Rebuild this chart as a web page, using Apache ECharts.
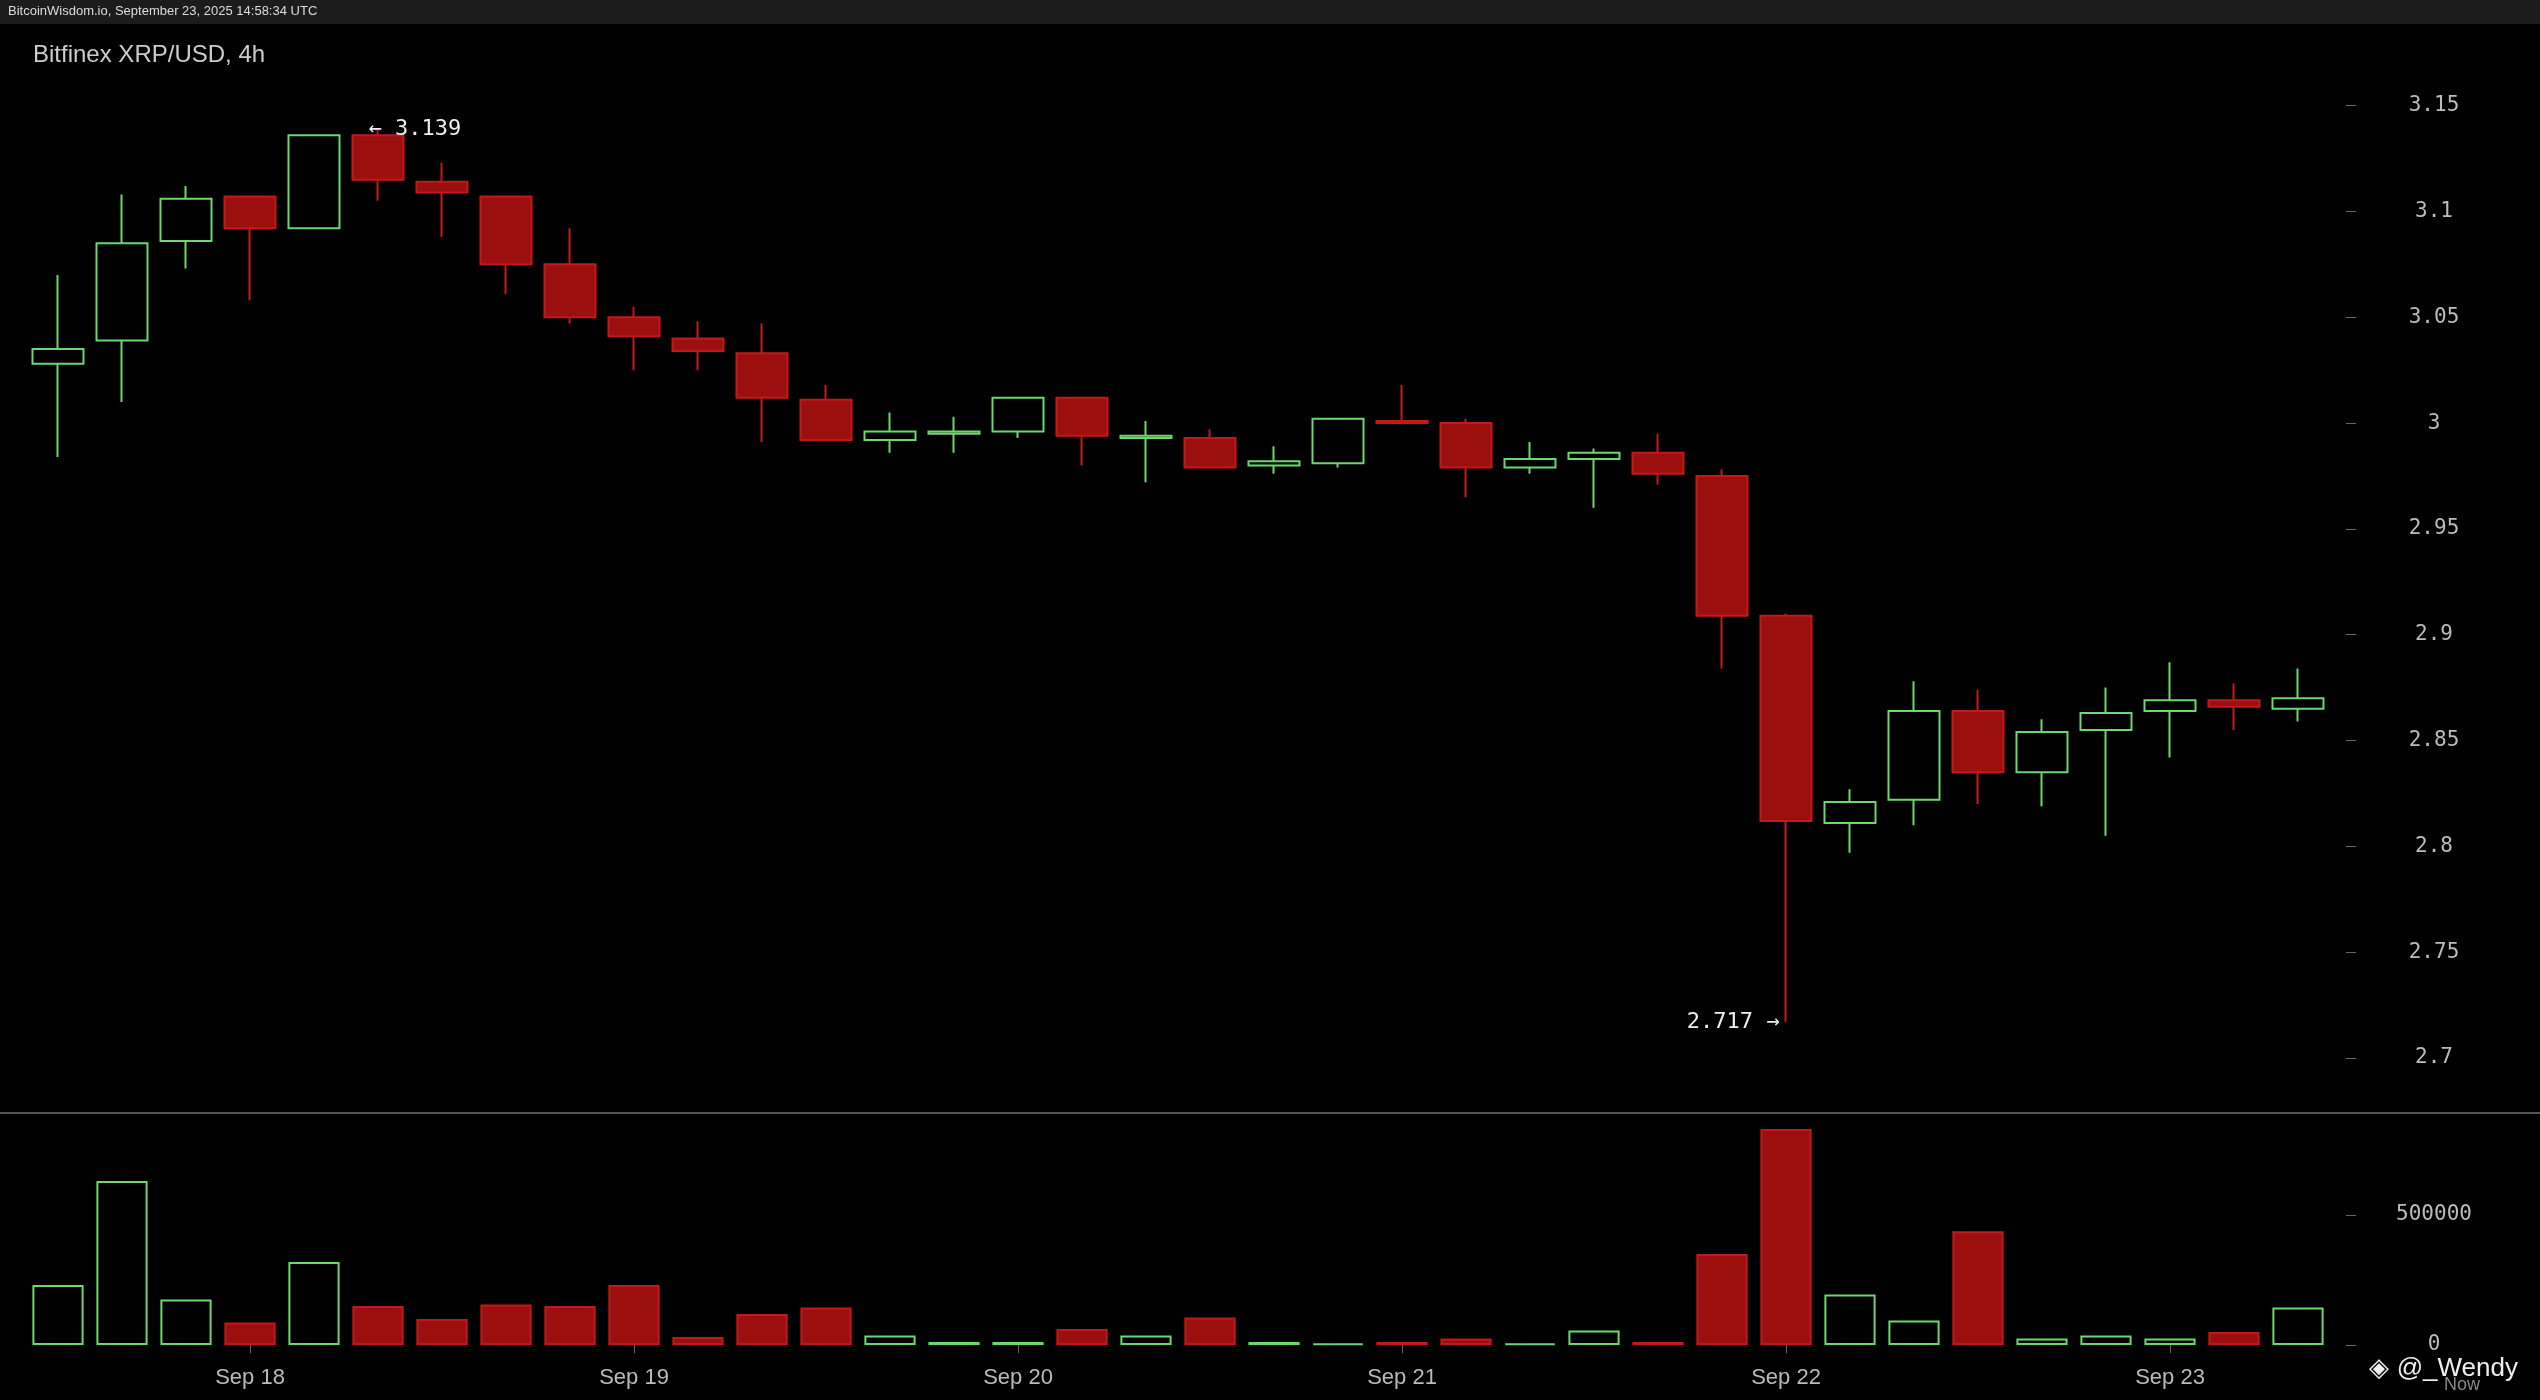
<!DOCTYPE html>
<html><head><meta charset="utf-8">
<script src="https://cdn.jsdelivr.net/npm/echarts@6/dist/echarts.min.js"></script>
<style>html,body{margin:0;background:#1c1c1c;}#c{width:2540px;height:1400px;}</style>
</head><body><div id="c"></div>
<script>
const categories = ["09-17 12:00","09-17 16:00","09-17 20:00","09-18 00:00","09-18 04:00","09-18 08:00","09-18 12:00","09-18 16:00","09-18 20:00","09-19 00:00","09-19 04:00","09-19 08:00","09-19 12:00","09-19 16:00","09-19 20:00","09-20 00:00","09-20 04:00","09-20 08:00","09-20 12:00","09-20 16:00","09-20 20:00","09-21 00:00","09-21 04:00","09-21 08:00","09-21 12:00","09-21 16:00","09-21 20:00","09-22 00:00","09-22 04:00","09-22 08:00","09-22 12:00","09-22 16:00","09-22 20:00","09-23 00:00","09-23 04:00","09-23 08:00"];
const dayLabels = {3:"Sep 18",9:"Sep 19",15:"Sep 20",21:"Sep 21",27:"Sep 22",33:"Sep 23"};
// [open, close, low, high]
const ohlc = [
[3.028,3.035,2.984,3.070],[3.039,3.085,3.010,3.108],[3.086,3.106,3.073,3.112],[3.107,3.092,3.058,3.107],
[3.092,3.136,3.092,3.136],[3.136,3.115,3.105,3.139],[3.114,3.109,3.088,3.123],[3.107,3.075,3.061,3.107],
[3.075,3.050,3.047,3.092],[3.050,3.041,3.025,3.055],[3.040,3.034,3.025,3.048],[3.033,3.012,2.991,3.047],
[3.011,2.992,2.992,3.018],[2.992,2.996,2.986,3.005],[2.995,2.996,2.986,3.003],[2.996,3.012,2.993,3.012],
[3.012,2.994,2.980,3.012],[2.993,2.994,2.972,3.001],[2.993,2.979,2.979,2.997],[2.980,2.982,2.976,2.989],
[2.981,3.002,2.979,3.002],[3.001,3.000,3.000,3.018],[3.000,2.979,2.965,3.002],[2.979,2.983,2.976,2.991],
[2.983,2.986,2.960,2.988],[2.986,2.976,2.971,2.995],[2.975,2.909,2.884,2.978],[2.909,2.812,2.717,2.910],
[2.811,2.821,2.797,2.827],[2.822,2.864,2.810,2.878],[2.864,2.835,2.820,2.874],[2.835,2.854,2.819,2.860],
[2.855,2.863,2.805,2.875],[2.864,2.869,2.842,2.887],[2.869,2.866,2.855,2.877],[2.865,2.870,2.859,2.884]];
const volumes = [231000,631000,175000,87000,319000,150000,100000,156000,150000,231000,31000,119000,144000,37000,12000,12000,62000,37000,106000,12000,6000,12000,25000,6000,56000,12000,350000,831000,194000,94000,437000,25000,37000,25000,50000,144000];
const priceTicks = [2.7,2.75,2.8,2.85,2.9,2.95,3,3.05,3.1,3.15];
const volTicks = [0,500000];

const UP='#6fd66f', DOWN='#c4181a', DOWNFILL='#9c0f0f';
const chart = echarts.init(document.getElementById('c'));
const volData = volumes.map((v,i)=>{const up=ohlc[i][1]>=ohlc[i][0];
  return {value:v,itemStyle:{color:up?'#000':DOWNFILL,borderColor:up?UP:DOWN,borderWidth:2}};});
const axLabel={color:'#bbb',fontSize:21,fontFamily:'DejaVu Sans Mono, monospace'};
chart.setOption({
  backgroundColor:'#000',
  animation:false,
  title:{text:'Bitfinex XRP/USD, 4h',left:28,top:38,textStyle:{color:'#ccc',fontSize:24,fontWeight:'normal',fontFamily:'Liberation Sans, Arial'}},
  graphic:[
    {type:'rect',left:0,top:0,shape:{width:2540,height:24},style:{fill:'#1c1c1c'}},
    {type:'text',left:8,top:5,style:{text:'BitcoinWisdom.io, September 23, 2025 14:58:34 UTC',fill:'#ddd',font:'13px Liberation Sans'}},
    {type:'line',shape:{x1:0,y1:1113,x2:2540,y2:1113},style:{stroke:'#555',lineWidth:2}},
    {type:'text',right:22,bottom:18,style:{text:'◈ @_Wendy',fill:'#eee',font:'26px Liberation Sans'}},
    {type:'text',right:60,bottom:6,style:{text:'Now',fill:'#888',font:'18px Liberation Sans'}}
  ],
  grid:[{left:26,right:210,top:40,bottom:1400-1113},{left:26,right:210,top:1118,bottom:1400-1345}],
  xAxis:[
    {type:'category',data:categories,gridIndex:0,axisLine:{show:false},axisTick:{show:false},axisLabel:{show:false}},
    {type:'category',data:categories,gridIndex:1,axisLine:{show:false},
      axisTick:{show:true,alignWithLabel:true,length:8,lineStyle:{color:'#666'},interval:(i)=>dayLabels[i]!==undefined},
      axisLabel:Object.assign({},axLabel,{fontFamily:'Liberation Sans, Arial',fontSize:22,margin:22,interval:(i)=>dayLabels[i]!==undefined,formatter:(v,i)=>dayLabels[i]||''})}
  ],
  yAxis:[
    {type:'value',gridIndex:0,position:'right',offset:16,min:2.674,max:3.181,splitLine:{show:false},axisLine:{show:false},
     axisTick:{show:true,length:10,lineStyle:{color:'#666'},customValues:priceTicks},
     axisLabel:Object.assign({},axLabel,{margin:88,align:'center',customValues:priceTicks,formatter:v=>String(+v.toFixed(2))})},
    {type:'value',gridIndex:1,position:'right',offset:16,min:0,max:873000,splitLine:{show:false},axisLine:{show:false},
     axisTick:{show:true,length:10,lineStyle:{color:'#666'},customValues:volTicks},
     axisLabel:Object.assign({},axLabel,{margin:88,align:'center',customValues:volTicks,formatter:v=>String(v)})}
  ],
  series:[
    {type:'candlestick',xAxisIndex:0,yAxisIndex:0,data:ohlc,barWidth:'80%',
     itemStyle:{color:'#000',color0:DOWNFILL,borderColor:UP,borderColor0:DOWN,borderWidth:2},
     markPoint:{symbol:'circle',symbolSize:1,itemStyle:{color:'rgba(0,0,0,0)'},
       data:[
         {coord:[5,3.139],label:{show:true,position:'right',distance:-10,formatter:'← 3.139',color:'#eee',fontSize:22,fontFamily:'DejaVu Sans Mono'}},
         {coord:[27,2.717],label:{show:true,position:'left',distance:6,formatter:'2.717 →',color:'#eee',fontSize:22,fontFamily:'DejaVu Sans Mono'}}
       ]}},
    {type:'bar',xAxisIndex:1,yAxisIndex:1,data:volData,barWidth:'80%'}
  ]
});
</script></body></html>
